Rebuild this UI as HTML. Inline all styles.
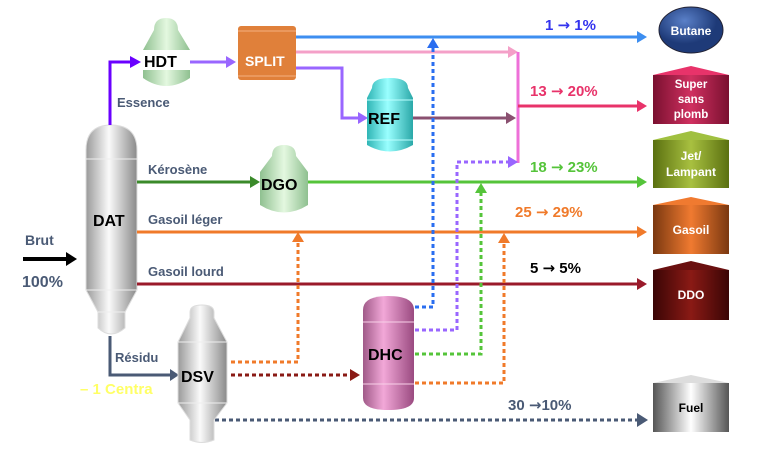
<!DOCTYPE html>
<html><head><meta charset="utf-8"><style>
html,body{margin:0;padding:0;background:#fff}
svg{display:block}
text{font-family:"Liberation Sans",sans-serif;font-weight:bold}
tspan.a{font-family:"DejaVu Sans",sans-serif;font-weight:bold}
</style></head><body>
<svg width="768" height="461" viewBox="0 0 768 461" xmlns="http://www.w3.org/2000/svg">
<defs>
<linearGradient id="gs" x1="0" x2="1"><stop offset="0" stop-color="#9a9a9a"/><stop offset=".45" stop-color="#fafafa"/><stop offset="1" stop-color="#8a8a8a"/></linearGradient>
<linearGradient id="gg" x1="0" x2="1"><stop offset="0" stop-color="#8fc090"/><stop offset=".5" stop-color="#e4f8e0"/><stop offset="1" stop-color="#8fc090"/></linearGradient>
<linearGradient id="gc" x1="0" x2="1"><stop offset="0" stop-color="#2fb5b5"/><stop offset=".45" stop-color="#9ff"/><stop offset="1" stop-color="#2aa8a8"/></linearGradient>
<linearGradient id="gp" x1="0" x2="1"><stop offset="0" stop-color="#a05a88"/><stop offset=".4" stop-color="#f2a8d8"/><stop offset="1" stop-color="#9a4a80"/></linearGradient>
<linearGradient id="gsp" x1="0" x2="1"><stop offset="0" stop-color="#7a1030"/><stop offset=".5" stop-color="#d03060"/><stop offset="1" stop-color="#7a1030"/></linearGradient>
<linearGradient id="gj" x1="0" x2="1"><stop offset="0" stop-color="#5a7010"/><stop offset=".5" stop-color="#a8c040"/><stop offset="1" stop-color="#5a7010"/></linearGradient>
<linearGradient id="go" x1="0" x2="1"><stop offset="0" stop-color="#7a3810"/><stop offset=".5" stop-color="#f07a30"/><stop offset="1" stop-color="#7a3810"/></linearGradient>
<linearGradient id="gd" x1="0" x2="1"><stop offset="0" stop-color="#3a0505"/><stop offset=".5" stop-color="#8a1a15"/><stop offset="1" stop-color="#3a0505"/></linearGradient>
<linearGradient id="gf" x1="0" x2="1"><stop offset="0" stop-color="#555"/><stop offset=".5" stop-color="#fff"/><stop offset="1" stop-color="#555"/></linearGradient>
<radialGradient id="gb" cx=".4" cy=".3"><stop offset="0" stop-color="#5a80c8"/><stop offset="1" stop-color="#1e3a78"/></radialGradient>
</defs>

<path d="M86,150 Q86,125 111,125 Q137,125 137,150 L137,290 L125,312 L125,328 Q111,340 98,328 L98,312 L86,290 Z" fill="url(#gs)" stroke="#ddd"/>
<line x1="86" y1="159" x2="137" y2="159" stroke="#eee"/>
<line x1="86" y1="290" x2="137" y2="290" stroke="#eee"/>
<line x1="98" y1="312" x2="125" y2="312" stroke="#eee"/>
<text x="93" y="226" font-size="16" fill="#000">DAT</text>

<path d="M110,125 V62 H132" fill="none" stroke="#6a00ff" stroke-width="3"/>
<polygon points="130,56 141,62 130,68" fill="#6a00ff"/>
<text x="117" y="107" font-size="13" fill="#4a5a75">Essence</text>

<path d="M154,30 Q154,18 166,18 Q178,18 178,30 L190,50 L190,78 Q166,94 143,78 L143,50 Z" fill="url(#gg)"/>
<rect x="143" y="50" width="47" height="20" fill="#fff"/>
<text x="144" y="67" font-size="16" fill="#000">HDT</text>
<path d="M190,62 H228" stroke="#9966ff" stroke-width="3"/>
<polygon points="226,56 236,62 226,68" fill="#9966ff"/>

<rect x="238" y="26" width="58" height="54" rx="3" fill="#e0803a"/>
<line x1="238" y1="31" x2="296" y2="31" stroke="#f4b080"/>
<line x1="238" y1="76" x2="296" y2="76" stroke="#f4b080"/>
<text x="245" y="66" font-size="14" fill="#fff">SPLIT</text>

<path d="M296,37 H640" stroke="#3d8ef0" stroke-width="3"/>
<polygon points="637,31 647,37 637,43" fill="#3d8ef0"/>
<text x="545" y="30" font-size="15" fill="#3333ee">1 <tspan class="a">→</tspan> 1%</text>
<path d="M296,52 H510" stroke="#f4a0c8" stroke-width="3"/>
<polygon points="508,46 518,52 508,58" fill="#f4a0c8"/>
<path d="M518,52 V163" stroke="#ee70d8" stroke-width="3"/>
<path d="M296,68 H342 V118 H360" fill="none" stroke="#9966ff" stroke-width="3"/>
<polygon points="358,112 368,118 358,124" fill="#9966ff"/>

<path d="M372,88 Q372,78 390,78 Q408,78 408,88 L413,98 L413,145 Q390,158 367,145 L367,98 Z" fill="url(#gc)"/>
<line x1="367" y1="100" x2="413" y2="100" stroke="#bff"/>
<line x1="367" y1="140" x2="413" y2="140" stroke="#bff"/>
<text x="368" y="124" font-size="16" fill="#000">REF</text>
<path d="M413,118 H508" stroke="#8a5070" stroke-width="3"/>
<polygon points="506,112 516,118 506,124" fill="#8a5070"/>

<path d="M518,106 H640" stroke="#e8336a" stroke-width="3"/>
<polygon points="637,100 647,106 637,112" fill="#e8336a"/>
<text x="530" y="96" font-size="15" fill="#e8336a">13 <tspan class="a">→</tspan> 20%</text>

<text x="148" y="174" font-size="13" fill="#4a5a75">Kérosène</text>
<path d="M137,182 H252" stroke="#3a8a2a" stroke-width="3"/>
<polygon points="250,176 260,182 250,188" fill="#3a8a2a"/>
<path d="M308,182 H640" stroke="#55c43a" stroke-width="3"/>
<polygon points="637,176 647,182 637,188" fill="#55c43a"/>
<text x="530" y="172" font-size="15" fill="#55c43a">18 <tspan class="a">→</tspan> 23%</text>

<path d="M272,156 Q272,145 284,145 Q296,145 296,156 L308,172 L308,205 Q284,220 260,205 L260,172 Z" fill="url(#gg)"/>
<text x="261" y="190" font-size="16" fill="#000">DGO</text>

<text x="148" y="224" font-size="13" fill="#4a5a75">Gasoil léger</text>
<path d="M137,232 H640" stroke="#f07a2a" stroke-width="3"/>
<polygon points="637,226 647,232 637,238" fill="#f07a2a"/>
<text x="515" y="217" font-size="15" fill="#f07a2a">25 <tspan class="a">→</tspan> 29%</text>

<text x="148" y="276" font-size="13" fill="#4a5a75">Gasoil lourd</text>
<path d="M137,284 H640" stroke="#9a1a2a" stroke-width="3"/>
<polygon points="637,278 647,284 637,290" fill="#9a1a2a"/>
<text x="530" y="273" font-size="15" fill="#000">5 <tspan class="a">→</tspan> 5%</text>

<text x="25" y="245" font-size="14" fill="#4a5a75">Brut</text>
<path d="M23,259 H68" stroke="#000" stroke-width="4"/>
<polygon points="66,252 77,259 66,266" fill="#000"/>
<text x="22" y="287" font-size="16" fill="#4a5a75">100%</text>

<path d="M110,336 V375 H172" fill="none" stroke="#4a5a75" stroke-width="3"/>
<polygon points="170,369 179,375 170,381" fill="#4a5a75"/>
<text x="115" y="362" font-size="13" fill="#4a5a75">Résidu</text>
<text x="80" y="394" font-size="15" fill="#ffff66">–  1 Centra</text>

<g fill="none" stroke-width="3" stroke-dasharray="4,3">
<path d="M231,362 H298 V240" stroke="#f07a2a"/>
<path d="M231,375 H350" stroke="#8a1a15"/>
<path d="M415,307 H433 V48" stroke="#2a6ef0"/>
<path d="M415,330 H457 V162 H510" stroke="#9966ff"/>
<path d="M415,354 H481 V192" stroke="#55c43a"/>
<path d="M415,383 H504 V242" stroke="#f07a2a"/>
<path d="M215,420 H640" stroke="#4a5a75"/>
</g>
<polygon points="292,242 298,232 304,242" fill="#f07a2a"/>
<polygon points="350,369 360,375 350,381" fill="#8a1a15"/>
<polygon points="427,48 433,38 439,48" fill="#2a6ef0"/>
<polygon points="508,156 518,162 508,168" fill="#9966ff"/>
<polygon points="475,193 481,183 487,193" fill="#55c43a"/>
<polygon points="498,243 504,233 510,243" fill="#f07a2a"/>
<polygon points="637,413 648,420 637,427" fill="#4a5a75"/>
<text x="508" y="410" font-size="15" fill="#4a5a75">30 <tspan class="a">→</tspan>10%</text>

<path d="M190,312 Q190,305 202,305 Q214,305 214,312 L214,318 L227,342 L227,403 L214,420 L214,440 Q202,445 190,440 L190,420 L178,403 L178,342 L190,318 Z" fill="url(#gs)" stroke="#ddd"/>
<line x1="178" y1="342" x2="227" y2="342" stroke="#eee"/>
<line x1="178" y1="403" x2="227" y2="403" stroke="#eee"/>
<text x="181" y="382" font-size="16" fill="#000">DSV</text>

<path d="M363,310 Q363,296 388,296 Q414,296 414,310 L414,398 Q414,410 388,410 Q363,410 363,398 Z" fill="url(#gp)"/>
<line x1="363" y1="322" x2="414" y2="322" stroke="#f8d0e8"/>
<line x1="363" y1="384" x2="414" y2="384" stroke="#f8d0e8"/>
<text x="368" y="360" font-size="16" fill="#000">DHC</text>

<ellipse cx="691" cy="30" rx="32" ry="23" fill="url(#gb)" stroke="#223"/>
<text x="691" y="35" font-size="12" fill="#fff" text-anchor="middle">Butane</text>

<polygon points="653,75 691,66 729,75" fill="#e8336a"/>
<rect x="653" y="75" width="76" height="49" fill="url(#gsp)"/>
<text x="691" y="88" font-size="11.5" fill="#fff" text-anchor="middle">Super</text>
<text x="691" y="103" font-size="11.5" fill="#fff" text-anchor="middle">sans</text>
<text x="691" y="118" font-size="11.5" fill="#fff" text-anchor="middle">plomb</text>

<polygon points="653,140 691,131 729,140" fill="#a0c040"/>
<rect x="653" y="140" width="76" height="48" fill="url(#gj)"/>
<text x="691" y="160" font-size="12" fill="#fff" text-anchor="middle">Jet/</text>
<text x="691" y="176" font-size="12" fill="#fff" text-anchor="middle">Lampant</text>

<polygon points="653,205 691,197 729,205" fill="#f07a30"/>
<rect x="653" y="205" width="76" height="49" fill="url(#go)"/>
<text x="691" y="234" font-size="12" fill="#fff" text-anchor="middle">Gasoil</text>

<polygon points="653,270 691,261 729,270" fill="#6a1010"/>
<rect x="653" y="270" width="76" height="50" fill="url(#gd)"/>
<text x="691" y="299" font-size="12" fill="#fff" text-anchor="middle">DDO</text>

<polygon points="653,383 691,375 729,383" fill="#ddd"/>
<rect x="653" y="383" width="76" height="49" fill="url(#gf)"/>
<text x="691" y="412" font-size="12" fill="#000" text-anchor="middle">Fuel</text>
</svg>
</body></html>
